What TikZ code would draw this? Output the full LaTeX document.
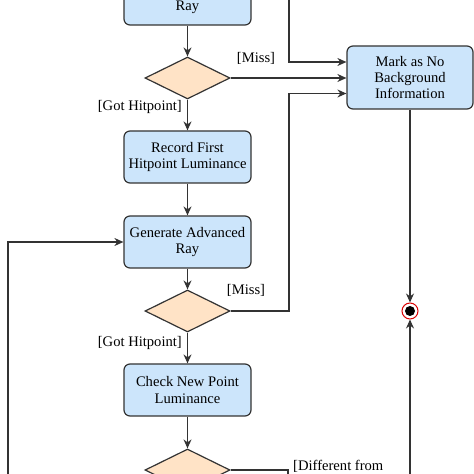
\documentclass[tikz,border=0pt]{standalone}
\usepackage{fontspec}
\setmainfont{Liberation Serif}
\usetikzlibrary{shapes.geometric,arrows.meta,calc}

\definecolor{actfill}{HTML}{CCE5FB}
\definecolor{decfill}{HTML}{FFE3C6}
\definecolor{edge}{HTML}{333333}

\tikzset{
    act/.style={draw=edge, line width=1.2pt, fill=actfill, rounded corners=6pt,
        minimum width=127pt, minimum height=52pt, align=center, inner sep=2pt,
        font=\fontsize{14.6}{16.2}\selectfont},
    dec/.style={diamond, draw=edge, line width=1.2pt, fill=decfill,
        minimum width=85pt, minimum height=42pt, inner sep=0pt},
    flow/.style={draw=edge, line width=1.2pt, -{Stealth[length=9pt,width=8pt]}},
    guard/.style={font=\fontsize{14.6}{16.2}\selectfont, inner sep=1pt}
}

\begin{document}
\begin{tikzpicture}[x=1pt,y=1pt]
    \useasboundingbox (0,0) rectangle (474,474);
    \clip (0,0) rectangle (474,474);

    \node[act] (ray) at (187.5,475) {\mbox{}\\[10pt]Ray};
    \node[dec] (hit1) at (187.5,396) {};
    \node[act] (first) at (187.5,317) {Record First\\Hitpoint Luminance};
    \node[act] (adv) at (187.5,232) {Generate Advanced\\Ray};
    \node[dec] (hit2) at (187.5,163) {};
    \node[act] (check) at (187.5,84) {Check New Point\\Luminance};
    \node[dec] (diff) at (187.5,4) {};
    \node[act, minimum width=126pt, minimum height=63pt] (mark) at (410,396.5)
        {Mark as No\\Background\\Information};
    \node[circle, draw=red!85!black, line width=1pt, fill=white, minimum size=16pt,
        inner sep=0pt] (done) at (410,163) {};
    \fill[black] (done) circle (5pt);

    \coordinate (topin) at (289,490);
    \coordinate (diffout) at (288,-20);
    \coordinate (loopin) at (8,-20);
    \coordinate (endin) at (410,-20);

    \draw[flow] (ray) -- (hit1);
    \draw[flow] (hit1) -- (first);
    \draw[flow] (first) -- (adv);
    \draw[flow] (adv) -- (hit2);
    \draw[flow] (hit2) -- (check);
    \draw[flow] (check) -- (diff);
    \draw[flow] (hit1.east) -- (hit1.east -| mark.west);
    \draw[flow] (topin) |- ($(mark.west)+(0,15.5)$);
    \draw[flow] (hit2.east) -| (289,380.5) -- ($(mark.west)+(0,-16)$);
    \draw[draw=edge, line width=1.2pt] (diff.east) -| (diffout);
    \draw[flow] (loopin) |- (adv.west);
    \draw[flow] (mark) -- (done);
    \draw[flow] (endin) -- (done);

    \node[guard] (miss1) at (256,416) {[Miss]};
    \node[guard, anchor=east] (got1) at (183,367) {[Got Hitpoint]};
    \node[guard] (miss2) at (246,184) {[Miss]};
    \node[guard, anchor=east] (got2) at (183,131) {[Got Hitpoint]};
    \node[guard, anchor=west] (other) at (292,8) {[Different from};
\end{tikzpicture}
\end{document}
